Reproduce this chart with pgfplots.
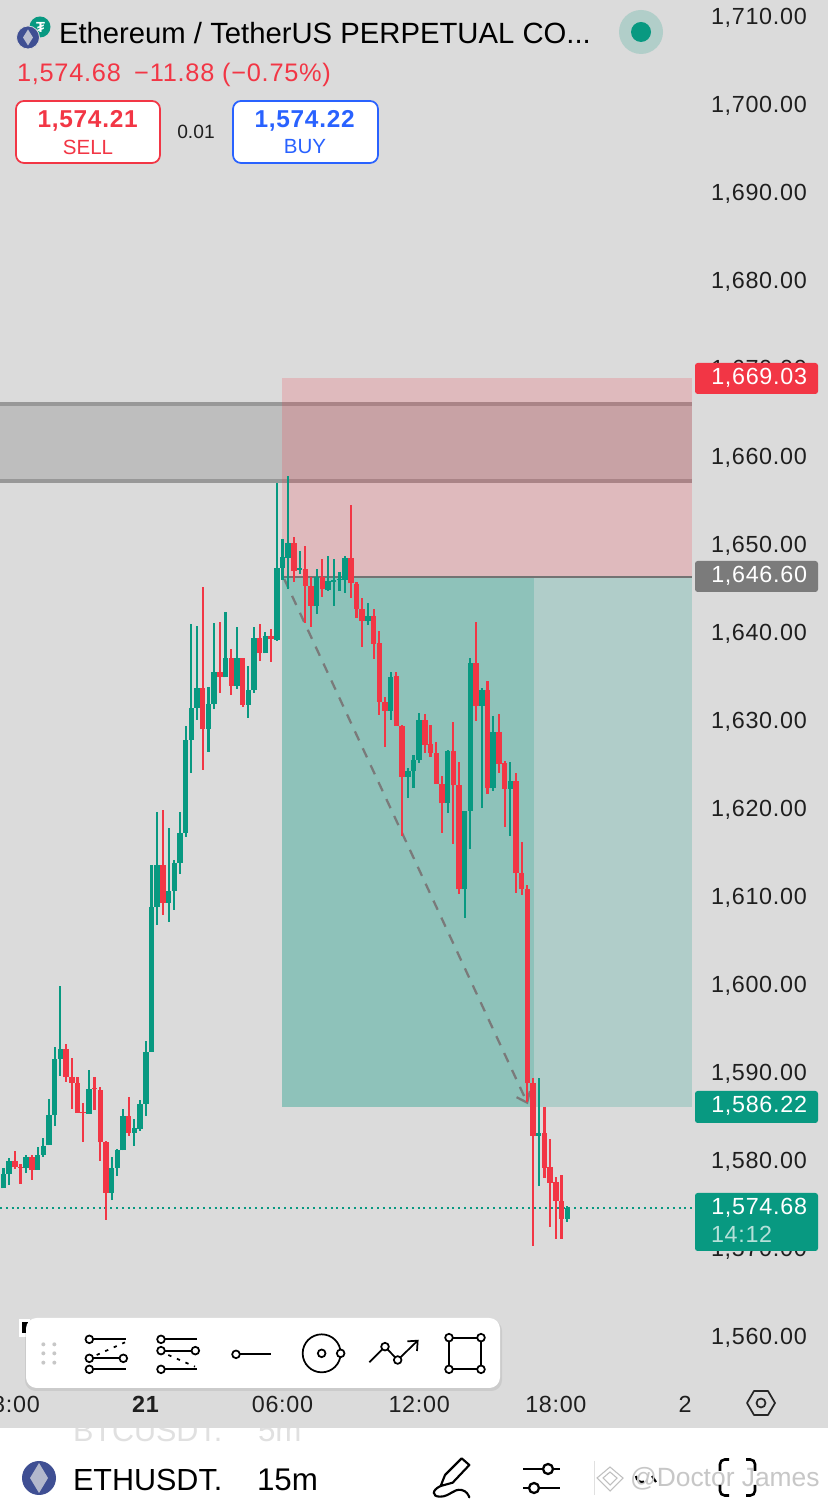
\documentclass[border=0pt]{standalone}
\usepackage{fontspec}
\setmainfont{Liberation Sans}
\newfontfamily\numf[LetterSpace=3]{Liberation Sans}
\usepackage{pgfplots}
\usepackage{pgfplotstable}
\pgfplotsset{compat=1.18}
\usetikzlibrary{arrows.meta}
\definecolor{bg}{HTML}{DBDBDB}
\definecolor{tvgreen}{HTML}{089981}
\definecolor{tvred}{HTML}{F23645}
\definecolor{tvblue}{HTML}{2962FF}
\definecolor{ethb}{HTML}{3F4F93}
\definecolor{band}{HTML}{BEBEBE}
\definecolor{bandl}{HTML}{989898}
\definecolor{tagg}{HTML}{7B7B7B}
\newcommand{\fs}[1]{\fontsize{#1}{#1}\selectfont}
\pgfplotstableread{
k o h l c
-49 1576.95 1579.23 1576.95 1578.58
-48 1578.54 1580.36 1577.33 1580.06
-45 1579.26 1580.74 1578.66 1580.55
-43 1579.04 1581.69 1579.04 1580.74
-42 1580.74 1582.71 1580.55 1581.80
-41 1581.84 1587.07 1581.84 1585.25
-40 1585.25 1593.05 1584.04 1591.65
-39 1591.65 1599.95 1589.72 1592.82
-34 1585.40 1590.40 1585.40 1588.24
-30 1576.46 1580.55 1575.63 1579.26
-29 1579.26 1581.42 1578.35 1581.27
-28 1581.27 1585.97 1581.27 1585.17
-26 1583.28 1584.79 1581.80 1583.81
-25 1583.73 1586.99 1583.43 1586.50
-24 1586.54 1593.70 1585.21 1592.45
-23 1592.45 1613.70 1592.45 1608.96
-22 1608.89 1619.76 1606.88 1613.70
-20 1609.42 1617.94 1607.26 1610.74
-19 1610.74 1614.27 1608.58 1613.89
-18 1613.89 1619.76 1612.67 1617.33
-17 1617.33 1629.49 1616.92 1627.90
-16 1627.90 1641.05 1624.19 1631.54
-15 1631.54 1640.86 1630.17 1633.77
-13 1629.15 1633.89 1626.58 1631.95
-12 1631.95 1641.16 1631.39 1635.59
-10 1635.02 1642.45 1635.02 1637.18
-8 1634.04 1640.70 1633.66 1637.18
-6 1631.88 1636.31 1630.36 1633.55
-5 1633.55 1640.78 1633.20 1639.45
-3 1637.75 1640.21 1637.75 1639.76
-1 1639.26 1657.06 1639.19 1647.48
0 1647.48 1650.74 1646.08 1648.73
1 1648.62 1657.94 1645.02 1650.25
3 1647.22 1649.38 1646.76 1647.41
6 1643.16 1647.33 1642.22 1646.38
8 1644.94 1648.81 1644.87 1645.97
9 1645.89 1648.43 1643.13 1646.04
10 1646.04 1646.95 1644.87 1646.19
11 1646.08 1648.81 1644.56 1648.54
15 1641.42 1643.43 1641.00 1641.95
19 1631.23 1635.62 1630.17 1635.09
22 1623.73 1624.68 1621.34 1624.41
23 1624.41 1626.19 1622.48 1625.62
24 1625.62 1630.93 1625.25 1630.13
29 1620.70 1626.76 1619.56 1626.65
32 1610.93 1619.83 1607.63 1619.83
33 1619.83 1637.25 1615.55 1636.61
35 1631.76 1633.77 1620.21 1633.58
37 1622.44 1630.66 1622.14 1628.84
40 1622.37 1625.36 1617.03 1623.28
45 1582.90 1589.46 1577.22 1583.21
50 1573.51 1574.99 1573.13 1574.68
}\greenT
\pgfplotstableread{
k o h l c
-47 1580.02 1581.20 1579.11 1579.34
-46 1579.42 1579.76 1577.45 1579.30
-44 1580.51 1580.74 1577.90 1579.04
-38 1592.82 1593.35 1589.00 1589.64
-37 1589.64 1591.73 1586.01 1588.96
-36 1588.96 1589.64 1585.55 1585.55
-35 1585.59 1586.69 1582.22 1585.48
-33 1588.35 1589.64 1585.85 1588.20
-32 1588.13 1588.43 1580.10 1582.18
-31 1582.22 1582.33 1573.35 1576.46
-27 1585.17 1587.29 1582.90 1583.28
-21 1613.70 1619.95 1608.02 1609.42
-14 1633.77 1645.33 1624.49 1629.11
-11 1635.59 1641.31 1633.20 1635.02
-9 1637.18 1638.24 1633.02 1634.04
-7 1637.18 1637.18 1631.61 1631.88
-4 1639.45 1641.08 1636.88 1637.75
-2 1639.76 1640.48 1636.80 1639.34
2 1650.25 1651.00 1645.85 1647.14
4 1647.29 1649.94 1641.23 1645.40
5 1645.40 1646.38 1640.78 1643.16
7 1646.38 1648.43 1644.11 1645.02
12 1648.54 1654.60 1644.07 1645.70
13 1645.66 1645.89 1641.80 1642.78
14 1642.78 1644.03 1638.50 1641.46
16 1641.95 1642.82 1637.14 1638.85
17 1638.88 1640.28 1630.74 1632.25
18 1632.25 1632.75 1627.14 1631.23
20 1635.17 1635.62 1629.53 1629.53
21 1629.53 1629.60 1616.99 1623.73
25 1630.13 1630.81 1626.38 1627.37
26 1627.40 1629.60 1625.93 1626.46
27 1626.46 1627.71 1622.90 1622.90
28 1622.90 1623.81 1617.29 1620.70
30 1626.65 1629.98 1616.04 1622.75
31 1622.75 1625.40 1610.40 1610.93
34 1636.61 1641.31 1630.02 1631.76
36 1633.58 1634.64 1621.72 1622.44
38 1628.84 1630.85 1624.11 1625.17
39 1625.25 1625.55 1618.05 1622.37
41 1623.28 1624.11 1610.55 1612.75
42 1612.75 1616.34 1610.28 1610.93
43 1611.01 1611.43 1586.80 1588.89
44 1588.89 1589.46 1570.40 1582.90
46 1583.28 1586.16 1578.17 1579.30
47 1579.34 1582.52 1572.52 1577.60
48 1577.64 1578.28 1571.16 1575.55
49 1575.55 1578.47 1571.16 1573.51
}\redT
\tikzset{px/.style={x=0.75pt,y=-0.75pt,shift={(0pt,1125.75pt)}},
 ic/.style={x=0.25pt,y=-0.25pt,shift={(0pt,150.75pt)}},
 lab/.style={inner sep=0pt,outer sep=0pt}}
\begin{document}
\begin{tikzpicture}
\path[use as bounding box,clip] (0,0) rectangle (621pt,1125.75pt);
\begin{scope}[px]
\fill[white] (0,0) rectangle (828,1501);
\node[lab,anchor=base west,text=black!12] at (73,1442) {\fs{22.9pt}BTCUSDT.};
\node[lab,anchor=base west,text=black!12] at (258,1442) {\fs{23.5pt}5m};
\fill[bg] (0,0) rectangle (828,1428);
\end{scope}
\begin{axis}[at={(0,0)},anchor=south west,scale only axis,width=621pt,height=1125.75pt,
 xmin=-49.605,xmax=95.79,ymin=1541.42,ymax=1711.99,clip=true,
 axis line style={draw=none},tick style={draw=none},major tick length=0pt,
 xtick={-48,-24,0,24,48,70.7},
 xticklabels={18:00,\textbf{21},06:00,12:00,18:00,2},
 xticklabel style={anchor=center,yshift=72.75pt,inner sep=0pt,font=\numf\fs{17.5pt},text=black!88},
 ytick={1560,1570,...,1710},
 yticklabel pos=right,
 yticklabel style={anchor=east,xshift=-15.75pt,yshift=-0.6pt,inner sep=0pt,font=\numf\fs{17.5pt},text=black!88,
   /pgf/number format/.cd,fixed,fixed zerofill,precision=2,1000 sep={,},assume math mode=true},
 scaled y ticks=false]
\addplot[draw=none,fill=band] coordinates {(-49.605,1666.08) (71.9,1666.08) (71.9,1657.33) (-49.605,1657.33)} --cycle;
\addplot[color=bandl,line width=2.6pt] coordinates {(-49.605,1666.08) (71.9,1666.08)};
\addplot[color=bandl,line width=2.6pt] coordinates {(-49.605,1657.33) (71.9,1657.33)};
\addplot[draw=none,fill=tvred,fill opacity=.2] coordinates {(-0.09,1669.03) (71.9,1669.03) (71.9,1646.45) (-0.09,1646.45)} --cycle;
\addplot[draw=none,fill=tvgreen,fill opacity=.2] coordinates {(-0.09,1646.45) (71.9,1646.45) (71.9,1586.22) (-0.09,1586.22)} --cycle;
\addplot[draw=none,fill=tvgreen,fill opacity=.2] coordinates {(-0.09,1646.45) (44.16,1646.45) (44.16,1586.22) (-0.09,1586.22)} --cycle;
\addplot[color=black!55,line width=1.4pt] coordinates {(-0.09,1646.45) (71.9,1646.45)};
\addplot[color=black!52,line width=1.7pt,dash pattern=on 7.5pt off 6.5pt,-{Straight Barb[length=7pt,width=11pt]}] coordinates {(0.3,1646.2) (43.1,1586.5)};
\addplot[color=tvgreen,line width=1.4pt,dash pattern=on 1.5pt off 2.85pt] coordinates {(-49.605,1574.68) (71.9,1574.68)};
\addplot[draw=none,mark=none,error bars/.cd,y dir=both,y explicit,error mark=none,error bar style={color=tvgreen,line width=1.6pt}] table[x=k,y=o,y error plus expr=\thisrow{h}-\thisrow{o},y error minus expr=\thisrow{o}-\thisrow{l}] {\greenT};
\addplot[draw=none,mark=none,error bars/.cd,y dir=both,y explicit,error mark=none,error bar style={color=tvred,line width=1.6pt}] table[x=k,y=c,y error plus expr=\thisrow{h}-\thisrow{c},y error minus expr=\thisrow{c}-\thisrow{l}] {\redT};
\addplot[draw=none,mark=none,error bars/.cd,y dir=plus,y explicit,error mark=none,error bar style={color=tvgreen,line width=4.1pt}] table[x=k,y=o,y error plus expr=\thisrow{c}-\thisrow{o},y error minus expr=0] {\greenT};
\addplot[draw=none,mark=none,error bars/.cd,y dir=plus,y explicit,error mark=none,error bar style={color=tvred,line width=4.1pt}] table[x=k,y=c,y error plus expr=\thisrow{o}-\thisrow{c},y error minus expr=0] {\redT};
\end{axis}
\begin{scope}[px]
% header
\fill[tvgreen] (40,27) circle (10.5);
\node[lab,text=white] at (40.5,27) {\fs{11pt}\textbf{₮}};
\fill[ethb,draw=bg,line width=.6pt] (28,37.5) circle (11.5);
\fill[black!10!white,opacity=.75] (28,29.5) -- (33,37.5) -- (28,45.5) -- (23,37.5) -- cycle;
\node[lab,anchor=west] at (59,33) {\fs{21.95pt}Ethereum / TetherUS PERPETUAL CO...};
\node[lab,anchor=west,text=tvred] at (17,75) {\numf\fs{19pt}1,574.68\hspace{10pt}−11.88 (−0.75\%)};
\draw[fill=white,draw=tvred,line width=1.3pt,rounded corners=6pt] (16,101) rectangle (160,163);
\draw[fill=white,draw=tvblue,line width=1.3pt,rounded corners=6pt] (233,101) rectangle (378,163);
\node[lab,text=tvred] at (88,121) {\numf\fs{18.3pt}\textbf{1,574.21}};
\node[lab,text=tvred] at (88,147) {\fs{15.4pt}SELL};
\node[lab,text=tvblue] at (305,121) {\numf\fs{18.3pt}\textbf{1,574.22}};
\node[lab,text=tvblue] at (305,147) {\fs{15.4pt}BUY};
\node[lab,text=black!88] at (196,132) {\fs{14.4pt}0.01};
\fill[tvgreen!20!bg] (641,32) circle (22);
\fill[tvgreen] (641,32) circle (10);
% price tags
\fill[tvred,rounded corners=2pt] (695,363) rectangle (818,394);
\node[lab,anchor=east,text=white] at (807,378) {\numf\fs{17.5pt}1,669.03};
\fill[tagg,rounded corners=2pt] (695,561) rectangle (818,592);
\node[lab,anchor=east,text=white] at (807,576) {\numf\fs{17.5pt}1,646.60};
\fill[tvgreen,rounded corners=2pt] (695,1091) rectangle (818,1123);
\node[lab,anchor=east,text=white] at (807,1106) {\numf\fs{17.5pt}1,586.22};
\fill[tvgreen,rounded corners=2pt] (695,1193) rectangle (818,1251);
\node[lab,anchor=east,text=white] at (807,1208) {\numf\fs{17.5pt}1,574.68};
\node[lab,anchor=west,text=white!70!tvgreen] at (711,1234) {\numf\fs{17.5pt}14:12};
% toolbar
\fill[white] (19,1319) rectangle (30,1337);
\fill[black] (22,1322) rectangle (28,1333);
\fill[black,opacity=.07,rounded corners=8pt] (25,1320) rectangle (502,1391);
\fill[white,rounded corners=8pt] (26,1318) rectangle (500,1388);
% hexagon icon
\draw[black!85,line width=1.3pt,line join=round] (747,1403) -- (754,1391) -- (768,1391) -- (775,1403) -- (768,1415) -- (754,1415) -- cycle;
\draw[black!85,line width=1.3pt] (761,1403) circle (4.5);
% bottom panel
\fill[ethb] (39,1478) circle (17);
\fill[black!10!white,opacity=.7] (39,1463) -- (48,1478) -- (39,1493) -- (30,1478) -- cycle;
\node[lab,anchor=base west] at (73,1490) {\fs{22.9pt}ETHUSDT.};
\node[lab,anchor=base west] at (257,1490) {\fs{23.5pt}15m};
\draw[black,line width=1.7pt] (523,1469) -- (560,1469) (523,1488) -- (560,1488);
\draw[black,line width=1.7pt,fill=white] (548,1469) circle (5) (534,1488) circle (5);
\draw[black!12,line width=.7pt] (594,1461) -- (594,1495);
\draw[black!25,line width=.8pt] (597,1478) -- (610,1467) -- (623,1478) -- (610,1491) -- cycle (603,1478) -- (610,1472) -- (617,1478) -- (610,1485) -- cycle;
\draw[black,line width=1.6pt] (636,1476) arc (180:70:6) (652,1476) -- (656,1482);
\node[lab,anchor=west,text=black!22] at (630,1479) {\fs{19.8pt}@Doctor James};
\draw[black,line width=1.9pt,rounded corners=3.5pt] (729,1459.5) -- (720,1459.5) -- (720,1471) (746,1459.5) -- (755,1459.5) -- (755,1471) (720,1485) -- (720,1495.5) -- (729,1495.5) (755,1485) -- (755,1495.5) -- (746,1495.5);
\end{scope}
\begin{scope}[ic]
\tikzset{o/.style={draw=black,line width=1.3pt,fill=white}}
\foreach \x/\y in {130/133,163/133,130/160,163/160,130/188,163/188} \fill[black!22] (\x,\y) circle (6);
\draw[black,line width=1.3pt] (280,118)--(378,118) (280,175)--(358,175) (280,208)--(378,208);
\draw[black,line width=1.3pt,dash pattern=on 2.5pt off 4.5pt] (290,165)--(375,127);
\foreach \x/\y in {268/118,268/175,370/175,268/208} \draw[o] (\x,\y) circle (11.5);
\draw[black,line width=1.3pt] (495,118)--(592,118) (495,152)--(575,152) (495,208)--(592,208);
\draw[black,line width=1.3pt,dash pattern=on 2.5pt off 4.5pt] (505,165)--(585,200);
\foreach \x/\y in {483/118,483/152,586/152,483/208} \draw[o] (\x,\y) circle (11.5);
\draw[black,line width=1.3pt] (720,163)--(812,163);
\draw[o] (708,163) circle (11.5);
\draw[black,line width=1.3pt] (965,160) circle (57);
\draw[o] (965,160) circle (11.5);
\draw[o] (1022,160) circle (11.5);
\draw[black,line width=1.3pt] (1108,187)--(1155,140)--(1193,180)--(1253,122) (1222,124)--(1253,122)--(1251,153);
\draw[o] (1155,140) circle (11.5);
\draw[o] (1193,180) circle (11.5);
\draw[black,line width=1.4pt] (1347,113) rectangle (1443,208);
\foreach \x/\y in {1347/113,1443/113,1347/208,1443/208} \draw[o] (\x,\y) circle (11.5);
% pen
\draw[black,line width=1.6pt,line join=round] (1322,558) -- (1335,525) -- (1385,475) -- (1408,495) -- (1358,548) -- cycle;
\draw[black,line width=1.6pt,line cap=round] (1322,558) .. controls (1295,570) and (1295,590) .. (1320,590) .. controls (1350,590) and (1360,565) .. (1385,570) .. controls (1400,573) and (1405,585) .. (1408,592);
\end{scope}
\end{tikzpicture}
\end{document}
